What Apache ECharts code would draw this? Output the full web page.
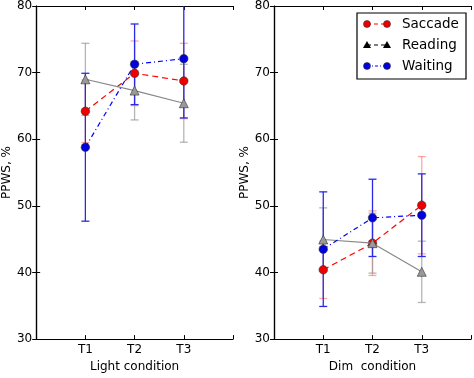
<!DOCTYPE html>
<html><head><meta charset="utf-8">
<script src="https://cdn.jsdelivr.net/npm/echarts@6/dist/echarts.min.js"></script>
<style>html,body{margin:0;padding:0;background:#fff}#c{width:474px;height:378px}</style>
</head><body><div id="c"></div>
<script>
const categories = ['T1', 'T2', 'T3'];
const yTicks = [30, 40, 50, 60, 70, 80];
const panelNames = ['Light condition', 'Dim  condition'];
const seriesNames = ['Saccade', 'Reading', 'Waiting'];

const lightSaccade = [64.2, 69.9, 68.75];
const lightSaccadeErr = [4.7, 4.85, 5.65];
const lightReading = [69.0, 67.3, 65.4];
const lightReadingErr = [5.4, 4.4, 5.85];
const lightWaiting = [58.8, 71.25, 72.1];
const lightWaitingErr = [11.1, 6.05, 8.9];

const dimSaccade = [40.4, 44.4, 50.1];
const dimSaccadeErr = [4.3, 4.85, 7.3];
const dimReading = [44.95, 44.4, 40.1];
const dimReadingErr = [4.75, 4.5, 4.6];
const dimWaiting = [43.5, 48.2, 48.6];
const dimWaitingErr = [8.6, 5.8, 6.2];

const panels = [
  {s: lightSaccade, se: lightSaccadeErr, r: lightReading, re: lightReadingErr, w: lightWaiting, we: lightWaitingErr},
  {s: dimSaccade, se: dimSaccadeErr, r: dimReading, re: dimReadingErr, w: dimWaiting, we: dimWaitingErr}
];

const styles = [
  {line: '#ff0000', err: 'rgba(255,60,60,0.45)', marker: 'circle', fill: '#ee0000', type: [6, 4]},
  {line: '#888888', err: 'rgba(150,150,150,0.7)', marker: 'triangle', fill: '#999999', type: 'solid'},
  {line: '#0000ff', err: '#2a2ae6', marker: 'circle', fill: '#0000dd', type: [5, 3, 1, 3]}
];

const FONT = 'DejaVu Sans';
const grids = [
  {left: 34, right: 241, top: 5, bottom: 32},
  {left: 274, right: 2, top: 5, bottom: 32}
];
const xAxes = [], yAxes = [], series = [];
grids.forEach((g, i) => {
  const base = {gridIndex: i, type: 'value', min: 0, max: 4, interval: 1,
    axisLine: {show: true, onZero: false, lineStyle: {color: '#000', width: 1.2}},
    axisTick: {show: true, inside: true, length: 4, lineStyle: {color: '#000'}},
    splitLine: {show: false}};
  xAxes.push(Object.assign({}, base, {position: 'bottom',
    name: panelNames[i], nameLocation: 'middle', nameGap: 21,
    nameTextStyle: {fontFamily: FONT, fontSize: 12, color: '#000'},
    axisLabel: {fontFamily: FONT, fontSize: 12, color: '#000', margin: 5,
      formatter: v => (v >= 1 && v <= 3) ? categories[v - 1] : ''}}));
  xAxes.push(Object.assign({}, base, {position: 'top', axisLabel: {show: false}}));
  const ybase = {gridIndex: i, type: 'value', min: yTicks[0], max: yTicks[yTicks.length - 1], interval: 10,
    axisLine: {show: true, lineStyle: {color: '#000', width: 1.2}},
    axisTick: {show: true, inside: true, length: 4, lineStyle: {color: '#000'}},
    splitLine: {show: false}};
  yAxes.push(Object.assign({}, ybase, {position: 'left',
    name: 'PPWS, %', nameLocation: 'middle', nameGap: 23,
    nameTextStyle: {fontFamily: FONT, fontSize: 12, color: '#000'},
    axisLabel: {fontFamily: FONT, fontSize: 12, color: '#000', margin: 4}}));
  yAxes.push(Object.assign({}, ybase, {position: 'right', axisLabel: {show: false}}));

  const p = panels[i];
  const sets = [[p.s, p.se], [p.r, p.re], [p.w, p.we]];
  // error bars
  sets.forEach((set, k) => {
    const data = set[0].map((v, j) => [j + 1, v - set[1][j], v + set[1][j]]);
    series.push({
      type: 'custom', xAxisIndex: 2 * i, yAxisIndex: 2 * i, clip: true, z: 2 + k * 0.1,
      data: data, silent: true,
      renderItem: (params, api) => {
        const lo = api.coord([api.value(0), api.value(1)]);
        const hi = api.coord([api.value(0), api.value(2)]);
        const hw = 4;
        const st = {stroke: styles[k].err, lineWidth: 1.3};
        return {type: 'group', children: [
          {type: 'line', shape: {x1: lo[0], y1: lo[1], x2: hi[0], y2: hi[1]}, style: st},
          {type: 'line', shape: {x1: lo[0] - hw, y1: lo[1], x2: lo[0] + hw, y2: lo[1]}, style: st},
          {type: 'line', shape: {x1: hi[0] - hw, y1: hi[1], x2: hi[0] + hw, y2: hi[1]}, style: st}
        ]};
      }
    });
  });
  // lines
  sets.forEach((set, k) => {
    series.push({
      type: 'line', name: seriesNames[k], xAxisIndex: 2 * i, yAxisIndex: 2 * i, z: 3 + k * 0.1,
      data: set[0].map((v, j) => [j + 1, v]),
      symbol: styles[k].marker, symbolSize: styles[k].marker === 'triangle' ? 9 : 8.5,
      lineStyle: {color: styles[k].line, width: 1.2, type: styles[k].type},
      itemStyle: {color: styles[k].fill, borderColor: '#333', borderWidth: 0.6},
      silent: true, animation: false
    });
  });
});

// legend box drawn as graphics
const legendChildren = [
  {type: 'rect', shape: {x: 357, y: 13, width: 109, height: 66}, style: {fill: '#fff', stroke: '#000', lineWidth: 1.2}}
];
const legendRows = [
  {y: 24, color: '#ff0000', fill: '#ee0000', sym: 'circle', dash: [4, 3]},
  {y: 45, color: '#000', fill: '#000', sym: 'triangle', dash: [4, 3]},
  {y: 66, color: '#0000ff', fill: '#0000dd', sym: 'circle', dash: [3, 2, 1, 2]}
];
legendRows.forEach((r, k) => {
  legendChildren.push({type: 'line', shape: {x1: 367, y1: r.y, x2: 387, y2: r.y}, style: {stroke: r.color, lineWidth: 1.2, lineDash: r.dash}});
  [367, 387].forEach(x => {
    if (r.sym === 'circle') legendChildren.push({type: 'circle', shape: {cx: x, cy: r.y, r: 3.5}, style: {fill: r.fill, stroke: '#333', lineWidth: 0.6}});
    else legendChildren.push({type: 'polygon', shape: {points: [[x, r.y - 4], [x - 4, r.y + 3], [x + 4, r.y + 3]]}, style: {fill: r.fill}});
  });
  legendChildren.push({type: 'text', x: 402, y: r.y, style: {text: seriesNames[k], fontFamily: FONT, fontSize: 13.5, fill: '#000', verticalAlign: 'middle'}});
});

const chart = echarts.init(document.getElementById('c'), null, {renderer: 'canvas'});
chart.setOption({
  animation: false,
  backgroundColor: '#fff',
  grid: grids,
  xAxis: xAxes,
  yAxis: yAxes,
  series: series,
  graphic: [{type: 'group', z: 100, children: legendChildren}]
});
</script></body></html>
